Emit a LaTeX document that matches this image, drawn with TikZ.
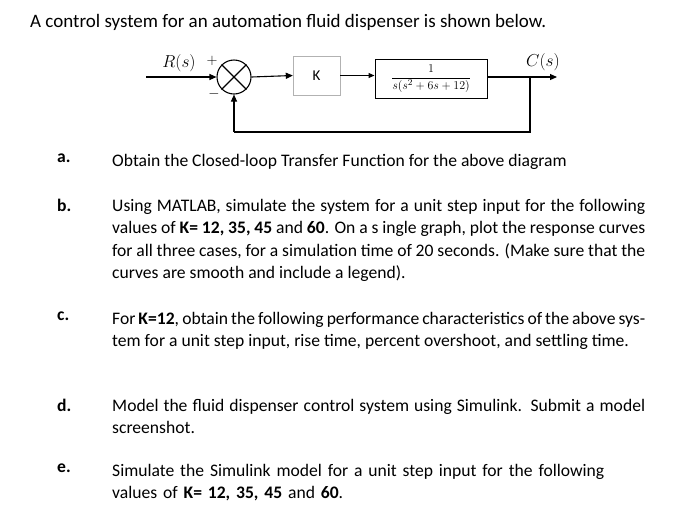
\documentclass[tikz,border=0pt]{standalone}
\usepackage{amsmath}
\usepackage{fontspec}
\setmainfont{Carlito}
\usetikzlibrary{arrows.meta}
\begin{document}
\begin{tikzpicture}[x=1pt,y=-1pt,
  blk/.style={draw,minimum height=38pt,inner sep=2pt},
  wire/.style={line width=1.1pt},
  arr/.style={wire,-{Triangle[length=7pt,width=6pt]}},
  para/.style={anchor=north west,inner sep=0,text width=533pt,align=justify,font=\fontsize{17.6}{22.5}\selectfont},
  lab/.style={anchor=north west,inner sep=0,font=\fontsize{17.6}{22.5}\selectfont\bfseries}]
\useasboundingbox (0,0) rectangle (700,531);
\node[anchor=base west,inner sep=0,font=\fontsize{19}{22}\selectfont] (title) at (30,27) {A control system for an automation fluid dispenser is shown below.};
\coordinate (rin) at (146,77);
\node[draw,circle,minimum size=34pt,inner sep=0,line width=1.1pt] (sum) at (234,77) {};
\draw[line width=1.1pt] (sum.north west)--(sum.south east) (sum.north east)--(sum.south west);
\node[blk,draw=gray!60,minimum width=47pt,minimum height=39pt,font=\fontsize{15}{16}\selectfont] (k) at (316.5,75.5) {K};
\node[blk,line width=1pt,minimum width=112pt,minimum height=39pt,font=\fontsize{13}{15}\selectfont] (g) at (431,78.5) {$\dfrac{1}{s(s^2+6s+12)}$};
\coordinate (br) at (530,77);
\coordinate (out) at (557,77);
\coordinate (bot) at (530,132);
\coordinate (botl) at (234,132);
\draw[arr] (rin)--(sum.west);
\draw[arr] (sum.east)--(k.west);
\draw[wire,-{Triangle[length=6pt,width=5pt]}] (k.east)--(g.west|-k.east);
\draw[wire] (g.east|-br)--(br);
\draw[arr] (br)--(out);
\draw[wire] (br)--(bot)--(botl);
\draw[arr] (botl)--(sum.south);
\node[font=\fontsize{17}{20}\selectfont] (rl) at (179,63) {$R(s)$};
\node[font=\fontsize{17}{20}\selectfont] (cl) at (543,62) {$C(s)$};
\node[font=\fontsize{15}{18}\selectfont] (pl) at (212,61) {$+$};
\node[font=\fontsize{15}{18}\selectfont] (ml) at (214,94) {$-$};
\node[lab] (la) at (57,154) {a.};
\node[para] (ta) at (112,154) {Obtain the Closed-loop Transfer Function for the above diagram};
\node[lab] (lb) at (57,199) {b.};
\node[para] (tb) at (112,199) {Using MATLAB, simulate the system for a unit step input for the following values of \textbf{K= 12, 35, 45} and \textbf{60}. On a s ingle graph, plot the response curves for all three cases, for a simulation time of 20 seconds. (Make sure that the curves are smooth and include a legend).};
\node[lab] (lc) at (57,312) {c.};
\node[para] (tc) at (112,312) {For \textbf{K=12}, obtain the following performance characteristics of the above system for a unit step input, rise time, percent overshoot, and settling time.};
\node[lab] (ld) at (57,399) {d.};
\node[para] (td) at (112,399) {Model the fluid dispenser control system using Simulink. Submit a model screenshot.};
\node[lab] (le) at (57,464) {e.};
\node[para,align=left] (te) at (112,464) {Simulate the Simulink model for a unit step input for the following\\ values of \textbf{K= 12, 35, 45} and \textbf{60}.};
\end{tikzpicture}
\end{document}
